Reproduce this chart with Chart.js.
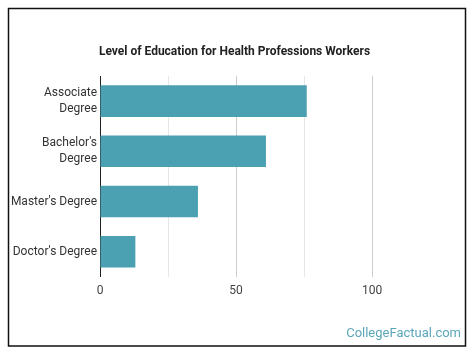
<!DOCTYPE html>
<html>
<head>
<meta charset="utf-8">
<script src="https://cdn.jsdelivr.net/npm/chart.js@4/dist/chart.umd.min.js"></script>
<style>
  html, body { margin: 0; padding: 0; background: #fff; }
  #wrap { position: relative; width: 476px; height: 357px; }
</style>
</head>
<body>
<div id="wrap"><canvas id="c" width="476" height="357"></canvas></div>
<script>
const categories = [["Associate", "Degree"], ["Bachelor's", "Degree"], "Master's Degree", "Doctor's Degree"];
const values = [76, 61, 36, 13];
const tickLabels = [0, 50, 100];
const gridTicks = [0, 25, 50, 75, 100];
const titleText = "Level of Education for Health Professions Workers";
const creditText = "CollegeFactual.com";

const framePlugin = {
  id: 'frame',
  afterDraw(chart) {
    const ctx = chart.ctx;
    ctx.save();
    ctx.strokeStyle = '#111';
    ctx.lineWidth = 1.5;
    ctx.strokeRect(8.5, 8.5, 457, 337.5);
    ctx.restore();
  }
};

new Chart(document.getElementById('c'), {
  type: 'bar',
  data: {
    labels: categories,
    datasets: [{
      data: values,
      backgroundColor: '#4ba0b2',
      borderWidth: 0,
      categoryPercentage: 1,
      barPercentage: 0.63
    }]
  },
  options: {
    indexAxis: 'y',
    responsive: false,
    animation: false,
    layout: { padding: { left: 8, right: 15, top: 0, bottom: 0 } },
    plugins: {
      legend: { display: false },
      tooltip: { enabled: false },
      title: {
        display: true,
        text: titleText,
        color: '#222',
        font: { family: 'Roboto', size: 12, weight: 'bold' },
        padding: { top: 44.8, bottom: 16.8 }
      },
      subtitle: {
        display: true,
        text: creditText,
        position: 'bottom',
        align: 'end',
        color: '#5ba6b8',
        font: { family: 'Roboto', size: 13, weight: 'normal' },
        padding: { top: 0, bottom: 15.2 }
      }
    },
    scales: {
      x: {
        min: 0,
        max: 132.7,
        afterBuildTicks(scale) {
          scale.ticks = gridTicks.map(v => ({ value: v }));
        },
        afterFit(scale) { scale.height = 49.4; },
        ticks: {
          stepSize: 25,
          padding: 7,
          color: '#444',
          font: { family: 'Roboto', size: 12 },
          maxRotation: 0,
          autoSkip: false,
          callback: (v) => tickLabels.includes(v) ? String(v) : ''
        },
        grid: {
          drawTicks: false,
          color: (ctx) => {
            const v = ctx.tick ? ctx.tick.value : null;
            if (v === 0) return 'rgba(0,0,0,0)';
            if (v === 50 || v === 100) return '#cccccc';
            return '#e6e6e6';
          },
          lineWidth: 1
        },
        border: { display: false }
      },
      y: {
        afterFit(scale) { scale.width = 92; },
        ticks: {
          padding: 3,
          color: '#333',
          font: { family: 'Roboto', size: 12, lineHeight: 1.35 }
        },
        grid: { display: false, drawTicks: false },
        border: { display: true, color: '#222', width: 1 }
      }
    }
  },
  plugins: [framePlugin]
});
</script>
</body>
</html>
